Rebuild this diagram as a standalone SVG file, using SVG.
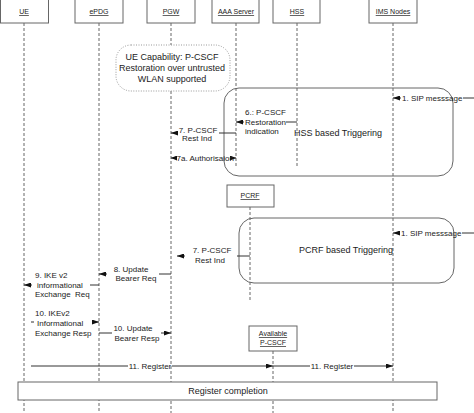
<svg xmlns="http://www.w3.org/2000/svg" width="474" height="413" viewBox="0 0 474 413">
<style>
text{font-family:"Liberation Sans",Arial,sans-serif;fill:#222}
.hd{font-size:7px;text-decoration:underline;text-anchor:middle}
.lb{font-size:8px}
.c{text-anchor:middle}
.big{font-size:9px}
.box{fill:#fff;stroke:#666;stroke-width:1}
.ll{stroke:#666;stroke-width:1;stroke-dasharray:3 2;fill:none}
.msg{stroke:#333;stroke-width:1;fill:none}
.frame{fill:none;stroke:#666;stroke-width:1}
</style>
<defs>
<marker id="ah" markerWidth="7" markerHeight="5" refX="7" refY="2.5" orient="auto-start-reverse" markerUnits="userSpaceOnUse"><path d="M0,0 L7,2.5 L0,5 z" fill="#111"/></marker>
<marker id="ahs" markerWidth="6" markerHeight="5" refX="6" refY="2.5" orient="auto" markerUnits="userSpaceOnUse"><path d="M0,0 L6,2.5 L0,5 z" fill="#111"/></marker>
</defs>
<rect width="474" height="413" fill="#fff"/>

<g id="UE"><line class="ll" x1="24" y1="23" x2="24" y2="413"/><rect class="box" x="0.5" y="-1" width="48" height="24"/><text class="hd" x="24" y="14">UE</text></g>
<g id="ePDG"><line class="ll" x1="99" y1="23" x2="99" y2="413"/><rect class="box" x="75" y="-1" width="48" height="24"/><text class="hd" x="99" y="14">ePDG</text></g>
<g id="PGW"><line class="ll" x1="171" y1="23" x2="171" y2="45"/><line class="ll" x1="171" y1="91" x2="171" y2="413"/><rect class="box" x="147" y="-1" width="48" height="24"/><text class="hd" x="171" y="14">PGW</text></g>
<g id="AAA"><line class="ll" x1="236" y1="23" x2="236" y2="168"/><rect class="box" x="212" y="-1" width="47" height="24"/><text class="hd" x="236" y="14">AAA Server</text></g>
<g id="HSS"><line class="ll" x1="297" y1="23" x2="297" y2="166"/><rect class="box" x="273" y="-1" width="47" height="24"/><text class="hd" x="297" y="14">HSS</text></g>
<g id="IMS"><line class="ll" x1="393" y1="23" x2="393" y2="413"/><rect class="box" x="369" y="-1" width="48" height="24"/><text class="hd" x="393" y="14">IMS Nodes</text></g>
<g id="PCRF"><line class="ll" x1="250" y1="207" x2="250" y2="300"/><rect class="box" x="227" y="185" width="47" height="22"/><text class="hd" x="250" y="198">PCRF</text></g>
<g id="AvailablePCSCF"><line class="ll" x1="273" y1="351" x2="273" y2="413"/><rect class="box" x="249" y="326" width="48" height="25"/><text class="hd" x="273" y="336">Available</text><text class="hd" x="273" y="345">P-CSCF</text></g>

<g id="capability-note"><rect x="116" y="45" width="114" height="46" rx="15" fill="#fff" stroke="#999" stroke-width="1" stroke-dasharray="1 1.5"/>
<text class="big c" x="172" y="60">UE Capability: P-CSCF</text>
<text class="big c" x="172" y="71">Restoration over untrusted</text>
<text class="big c" x="172" y="82">WLAN supported</text></g>

<g id="hss-trigger"><rect class="frame" x="224" y="88" width="229" height="88" rx="15"/><text class="big c" x="338" y="136">HSS based Triggering</text></g>
<g id="pcrf-trigger"><rect class="frame" x="239" y="218" width="215" height="65" rx="15"/><text class="big c" x="346" y="253">PCRF based Triggering</text></g>
<g id="register-completion"><rect class="box" x="18" y="382" width="419" height="18"/><text class="big c" x="228" y="394">Register completion</text></g>

<g id="connectors">
<path class="msg" d="M474,98 H463 M401,98 H393" marker-end="url(#ah)"/>
<path class="msg" d="M297,122 H286 M244,122 H236" marker-end="url(#ah)"/>
<path class="msg" d="M236,133 H219 M178,133 H171" marker-end="url(#ah)"/>
<path class="msg" d="M176,158 H171" marker-end="url(#ahs)"/>
<path class="msg" d="M231,158 H236" marker-end="url(#ahs)"/>
<path class="msg" d="M474,233 H462 M400,233 H393" marker-end="url(#ah)"/>
<path class="msg" d="M250,256 H237 M185,256 H177" marker-end="url(#ah)"/>
<path class="msg" d="M171,274 H159 M107,274 H99" marker-end="url(#ah)"/>
<path class="msg" d="M99,285 H90 M32,285 H24" marker-end="url(#ah)"/>
<path class="msg" d="M31,322 H34 M92,322 H99" marker-end="url(#ah)"/>
<path class="msg" d="M99,333 H112 M161,333 H171" marker-end="url(#ah)"/>
<path class="msg" d="M31,366 H128 M172,366 H273" marker-end="url(#ah)"/>
<path class="msg" d="M273,366 H310 M354,366 H393" marker-end="url(#ah)"/>
</g>

<g id="labels">
<text class="lb" x="402" y="101">1. SIP messsage</text>
<text class="lb" x="245" y="115">6.: P-CSCF</text>
<text class="lb" x="245" y="125">Restoration</text>
<text class="lb" x="245" y="134">indication</text>
<text class="lb c" x="198" y="133">7. P-CSCF</text>
<text class="lb c" x="197" y="141">Rest Ind</text>
<text class="lb" x="176.5" y="161" font-size="7.5">7a. Authorisaion</text>
<text class="lb" x="401" y="236">1. SIP messsage</text>
<text class="lb c" x="212" y="253">7. P-CSCF</text>
<text class="lb c" x="210" y="263">Rest Ind</text>
<text class="lb c" x="131" y="272">8. Update</text>
<text class="lb c" x="136" y="281">Bearer Req</text>
<text class="lb" x="35" y="278">9. IKE v2</text>
<text class="lb" x="37" y="288">informational</text>
<text class="lb" x="35" y="297" xml:space="preserve">Exchange  Req</text>
<text class="lb" x="35" y="316">10. IKEv2</text>
<text class="lb" x="37" y="326">Informational</text>
<text class="lb" x="35" y="336">Exchange Resp</text>
<text class="lb c" x="133" y="331">10. Update</text>
<text class="lb c" x="137" y="341">Bearer Resp</text>
<text class="lb c" x="150" y="369">11. Register</text>
<text class="lb c" x="332" y="369">11. Register</text>
</g>
</svg>
